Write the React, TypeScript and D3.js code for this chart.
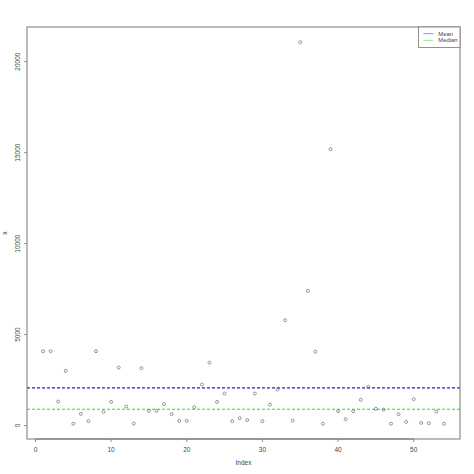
import React from "react";
import * as d3 from "d3";

const values: number[] = [
  4088, 4088, 1319, 3005, 100, 643, 242, 4088, 753, 1302,
  3187, 1044, 110, 3154, 808, 808, 1176, 626, 258, 258,
  1011, 2253, 3462, 1302, 1758, 242, 407, 297, 1758, 242,
  1154, 1978, 5791, 275, 21066, 7401, 4066, 100, 15187, 791,
  352, 791, 1412, 2126, 918, 879, 100, 626, 203, 1451,
  148, 132, 769, 100,
];
const xTicks: number[] = [0, 10, 20, 30, 40, 50];
const yTicks: number[] = [0, 5000, 10000, 15000, 20000];
const legendLabels: string[] = ["Mean", "Median"];
const legendColors: string[] = ["#0000ff", "#00dd00"];

const W = 474;
const H = 474;
const left = 27;
const right = 460;
const top = 27;
const bottom = 439;
const font = "'Liberation Sans', Arial, Helvetica, sans-serif";

function ext(lo: number, hi: number): [number, number] {
  const d = (hi - lo) * 0.04;
  return [lo - d, hi + d];
}

export default function App() {
  const idx = values.map((_, i) => i + 1);
  const x = d3.scaleLinear().domain(ext(1, values.length)).range([left, right]);
  const [mn, mx] = d3.extent(values) as [number, number];
  const y = d3.scaleLinear().domain(ext(mn, mx)).range([bottom, top]);
  const meanV = d3.mean(values) as number;
  const medV = d3.median(values) as number;
  const axisColor = "#777";
  const textColor = "#444";

  return (
    <div style={{ position: "absolute", left: 0, top: 0 }}>
      <svg width={W} height={H} style={{ display: "block", background: "#fff" }}>
        <rect x={0} y={0} width={W} height={H} fill="#fff" />
        {/* mean/median lines */}
        <line x1={left} x2={right} y1={y(meanV)} y2={y(meanV)} stroke="#2020cc" strokeWidth={1.3} strokeDasharray="3,2" />
        <line x1={left} x2={right} y1={y(medV)} y2={y(medV)} stroke="#22e822" strokeWidth={1.1} strokeDasharray="3,2" />
        {/* points */}
        {values.map((v, i) => (
          <circle key={i} cx={x(idx[i])} cy={y(v)} r={1.5} fill="none" stroke="#555" strokeWidth={0.6} />
        ))}
        {/* box */}
        <rect x={left} y={top} width={right - left} height={bottom - top} fill="none" stroke={axisColor} strokeWidth={1} />
        {/* x axis */}
        <line x1={x(xTicks[0])} x2={x(xTicks[xTicks.length - 1])} y1={bottom} y2={bottom} stroke={axisColor} strokeWidth={1} />
        {xTicks.map((t) => (
          <g key={t}>
            <line x1={x(t)} x2={x(t)} y1={bottom} y2={bottom + 3} stroke={axisColor} strokeWidth={0.8} />
            <text x={x(t)} y={452} textAnchor="middle" fontFamily={font} fontSize={6.5} fill={textColor}>{t}</text>
          </g>
        ))}
        <text x={(left + right) / 2} y={465} textAnchor="middle" fontFamily={font} fontSize={6.5} fill={textColor}>Index</text>
        {/* y axis */}
        {yTicks.map((t) => (
          <g key={t}>
            <line x1={left} x2={left - 3} y1={y(t)} y2={y(t)} stroke={axisColor} strokeWidth={0.8} />
            <text transform={`translate(19.5,${y(t)}) rotate(-90)`} textAnchor="middle" fontFamily={font} fontSize={6.5} fill={textColor}>{t}</text>
          </g>
        ))}
        <text transform={`translate(6.5,${(top + bottom) / 2}) rotate(-90)`} textAnchor="middle" fontFamily={font} fontSize={6.5} fill={textColor}>x</text>
        {/* legend */}
        <rect x={418.5} y={top} width={right - 418.5} height={20.5} fill="#fff" stroke={axisColor} strokeWidth={0.8} />
        {legendLabels.map((lab, i) => (
          <g key={lab}>
            <line x1={423.3} x2={433.3} y1={33.7 + i * 6.7} y2={33.7 + i * 6.7} stroke={legendColors[i]} strokeOpacity={0.45} strokeWidth={1} />
            <text x={438.3} y={33.7 + i * 6.7 + 2} fontFamily={font} fontSize={5.9} fill={textColor}>{lab}</text>
          </g>
        ))}
      </svg>
    </div>
  );
}
